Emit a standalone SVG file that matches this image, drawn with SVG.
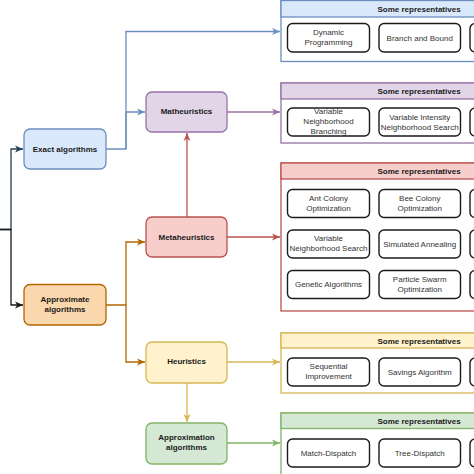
<svg xmlns="http://www.w3.org/2000/svg" width="474" height="474" viewBox="0 0 474 474">
<defs>
<style>
text{font-family:"Liberation Sans",Arial,sans-serif;font-size:8px;text-anchor:middle}
.nt{font-weight:bold;fill:#1a1a1a}
.ht{font-weight:bold;fill:#1a1a1a}
.it{fill:#333}
.item{fill:#fff;stroke:#1a1a1a;stroke-width:1.4}
.node{stroke-width:1.3}
.edge{fill:none;stroke-width:1.3}
</style>
<marker id="aK" markerWidth="9" markerHeight="8" refX="8" refY="4" orient="auto" markerUnits="userSpaceOnUse"><path d="M0,0.5 L8,4 L0,7.5 L2.2,4 z" fill="#1a1a1a"/></marker>
<marker id="aN" markerWidth="9" markerHeight="8" refX="8" refY="4" orient="auto" markerUnits="userSpaceOnUse"><path d="M0,0.5 L8,4 L0,7.5 L2.2,4 z" fill="#2b3f52"/></marker>
<marker id="aB" markerWidth="9" markerHeight="8" refX="8" refY="4" orient="auto" markerUnits="userSpaceOnUse"><path d="M0,0.5 L8,4 L0,7.5 L2.2,4 z" fill="#6c8ebf"/></marker>
<marker id="aP" markerWidth="9" markerHeight="8" refX="8" refY="4" orient="auto" markerUnits="userSpaceOnUse"><path d="M0,0.5 L8,4 L0,7.5 L2.2,4 z" fill="#9673a6"/></marker>
<marker id="aR" markerWidth="9" markerHeight="8" refX="8" refY="4" orient="auto" markerUnits="userSpaceOnUse"><path d="M0,0.5 L8,4 L0,7.5 L2.2,4 z" fill="#b85450"/></marker>
<marker id="aO" markerWidth="9" markerHeight="8" refX="8" refY="4" orient="auto" markerUnits="userSpaceOnUse"><path d="M0,0.5 L8,4 L0,7.5 L2.2,4 z" fill="#b46504"/></marker>
<marker id="aY" markerWidth="9" markerHeight="8" refX="8" refY="4" orient="auto" markerUnits="userSpaceOnUse"><path d="M0,0.5 L8,4 L0,7.5 L2.2,4 z" fill="#d6b656"/></marker>
<marker id="aG" markerWidth="9" markerHeight="8" refX="8" refY="4" orient="auto" markerUnits="userSpaceOnUse"><path d="M0,0.5 L8,4 L0,7.5 L2.2,4 z" fill="#82b366"/></marker>
</defs>
<rect width="474" height="474" fill="#fff"/>

<g id="connectors">
<path class="edge" d="M0,229.5 H11 V149 H23" stroke="#2b3f52" marker-end="url(#aN)"/>
<path class="edge" d="M0,229.5 H11 V305 H23" stroke="#1a1a1a" marker-end="url(#aK)"/>
<path class="edge" d="M106,149 H126 V31.5 H280" stroke="#6c8ebf" marker-end="url(#aB)"/>
<path class="edge" d="M126,149 V112 H145" stroke="#6c8ebf" marker-end="url(#aB)"/>
<path class="edge" d="M227,112 H280" stroke="#9673a6" marker-end="url(#aP)"/>
<path class="edge" d="M187,217 V133" stroke="#b85450" marker-end="url(#aR)"/>
<path class="edge" d="M227,237 H280" stroke="#b85450" marker-end="url(#aR)"/>
<path class="edge" d="M106,305 H126 V242 H145" stroke="#b46504" marker-end="url(#aO)"/>
<path class="edge" d="M126,305 V362 H145" stroke="#b46504" marker-end="url(#aO)"/>
<path class="edge" d="M227,362 H280" stroke="#d6b656" marker-end="url(#aY)"/>
<path class="edge" d="M187,383 V422" stroke="#d6b656" marker-end="url(#aY)"/>
<path class="edge" d="M227,443 H280" stroke="#82b366" marker-end="url(#aG)"/>
</g>

<g id="exact">
<rect class="node" x="24" y="129" width="82" height="40" rx="6" fill="#dae8fc" stroke="#6c8ebf"/>
<text class="nt" x="65" y="152">Exact algorithms</text>
</g>
<g id="approximate">
<rect class="node" x="24" y="284.5" width="82" height="40.5" rx="6" fill="#fad7ac" stroke="#b46504"/>
<text class="nt" x="65" y="302">Approximate</text>
<text class="nt" x="65" y="312">algorithms</text>
</g>
<g id="matheuristics">
<rect class="node" x="146" y="92" width="81" height="40" rx="6" fill="#e1d5e7" stroke="#9673a6"/>
<text class="nt" x="186.5" y="114">Matheuristics</text>
</g>
<g id="metaheuristics">
<rect class="node" x="146" y="217" width="81" height="40" rx="6" fill="#f8cecc" stroke="#b85450"/>
<text class="nt" x="186.5" y="240">Metaheuristics</text>
</g>
<g id="heuristics">
<rect class="node" x="146" y="342" width="81" height="41" rx="6" fill="#fff2cc" stroke="#d6b656"/>
<text class="nt" x="186.5" y="364">Heuristics</text>
</g>
<g id="approximation">
<rect class="node" x="146" y="423" width="81" height="41" rx="6" fill="#d5e8d4" stroke="#82b366"/>
<text class="nt" x="186.5" y="440">Approximation</text>
<text class="nt" x="186.5" y="450">algorithms</text>
</g>

<g id="panel-exact">
<rect x="281" y="0.5" width="220" height="61" fill="#fff" stroke="#6c8ebf" stroke-width="1.3"/>
<rect x="281" y="0.5" width="220" height="16.5" fill="#dae8fc" stroke="#6c8ebf" stroke-width="1.3"/>
<text class="ht" x="419" y="11.5">Some representatives</text>
<rect class="item" x="287.5" y="23.5" width="82" height="28.5" rx="5"/>
<text class="it" x="328.5" y="35">Dynamic</text>
<text class="it" x="328.5" y="45">Programming</text>
<rect class="item" x="379" y="23.5" width="81.5" height="28.5" rx="5"/>
<text class="it" x="419.75" y="40.5">Branch and Bound</text>
<rect class="item" x="470" y="23.5" width="82" height="28.5" rx="5"/>
</g>

<g id="panel-matheuristics">
<rect x="281" y="83" width="220" height="60" fill="#fff" stroke="#9673a6" stroke-width="1.3"/>
<rect x="281" y="83" width="220" height="16" fill="#e1d5e7" stroke="#9673a6" stroke-width="1.3"/>
<text class="ht" x="419" y="94">Some representatives</text>
<text class="it" x="328.5" y="113.5">Variable</text>
<rect class="item" x="287.5" y="108" width="82" height="28" rx="5" fill-opacity="0"/>
<text class="it" x="328.5" y="124">Neighborhood</text>
<text class="it" x="328.5" y="134">Branching</text>
<rect class="item" x="379" y="108" width="81.5" height="28" rx="5"/>
<text class="it" x="419.75" y="119.5">Variable Intensity</text>
<text class="it" x="419.75" y="129.5">Neighborhood Search</text>
<rect class="item" x="470" y="108" width="82" height="28" rx="5"/>
</g>

<g id="panel-metaheuristics">
<rect x="281" y="163" width="220" height="148" fill="#fff" stroke="#b85450" stroke-width="1.3"/>
<rect x="281" y="163" width="220" height="16" fill="#f8cecc" stroke="#b85450" stroke-width="1.3"/>
<text class="ht" x="419" y="174">Some representatives</text>
<rect class="item" x="287.5" y="189.5" width="82" height="28" rx="5"/>
<text class="it" x="328.5" y="200.5">Ant Colony</text>
<text class="it" x="328.5" y="210.5">Optimization</text>
<rect class="item" x="379" y="189.5" width="81.5" height="28" rx="5"/>
<text class="it" x="419.75" y="200.5">Bee Colony</text>
<text class="it" x="419.75" y="210.5">Optimization</text>
<rect class="item" x="470" y="189.5" width="82" height="28" rx="5"/>
<rect class="item" x="287.5" y="230" width="82" height="28" rx="5"/>
<text class="it" x="328.5" y="241">Variable</text>
<text class="it" x="328.5" y="251">Neighborhood Search</text>
<rect class="item" x="379" y="230" width="81.5" height="28" rx="5"/>
<text class="it" x="419.75" y="246.5">Simulated Annealing</text>
<rect class="item" x="470" y="230" width="82" height="28" rx="5"/>
<rect class="item" x="287.5" y="270.5" width="82" height="28" rx="5"/>
<text class="it" x="328.5" y="287">Genetic Algorithms</text>
<rect class="item" x="379" y="270.5" width="81.5" height="28" rx="5"/>
<text class="it" x="419.75" y="281.5">Particle Swarm</text>
<text class="it" x="419.75" y="291.5">Optimization</text>
<rect class="item" x="470" y="270.5" width="82" height="28" rx="5"/>
</g>

<g id="panel-heuristics">
<rect x="281" y="333" width="220" height="60" fill="#fff" stroke="#d6b656" stroke-width="1.3"/>
<rect x="281" y="333" width="220" height="15" fill="#fff2cc" stroke="#d6b656" stroke-width="1.3"/>
<text class="ht" x="419" y="343.5">Some representatives</text>
<rect class="item" x="287.5" y="358" width="82" height="28" rx="5"/>
<text class="it" x="328.5" y="369">Sequential</text>
<text class="it" x="328.5" y="379">Improvement</text>
<rect class="item" x="379" y="358" width="81.5" height="28" rx="5"/>
<text class="it" x="419.75" y="375">Savings Algorithm</text>
<rect class="item" x="470" y="358" width="82" height="28" rx="5"/>
</g>

<g id="panel-approximation">
<rect x="281" y="413" width="220" height="70" fill="#fff" stroke="#82b366" stroke-width="1.3"/>
<rect x="281" y="413" width="220" height="15.5" fill="#d5e8d4" stroke="#82b366" stroke-width="1.3"/>
<text class="ht" x="419" y="424">Some representatives</text>
<rect class="item" x="287.5" y="439" width="82" height="28" rx="5"/>
<text class="it" x="328.5" y="456">Match-Dispatch</text>
<rect class="item" x="379" y="439" width="81.5" height="28" rx="5"/>
<text class="it" x="419.75" y="456">Tree-Dispatch</text>
<rect class="item" x="470" y="439" width="82" height="28" rx="5"/>
</g>
</svg>
